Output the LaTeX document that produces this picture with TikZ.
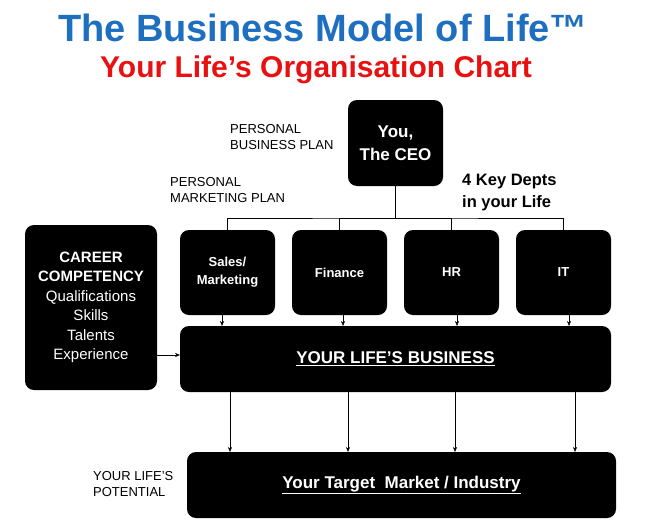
\documentclass[tikz,border=0pt]{standalone}
\usepackage{fontspec}
\setmainfont{Liberation Sans}
\usetikzlibrary{arrows.meta}
\begin{document}
\begin{tikzpicture}[x=1pt,y=-1pt,
  blk/.style={fill=black,rounded corners=9pt,text=white,font=\bfseries,align=center,inner sep=0},
  lbl/.style={font=\fontsize{13}{16}\selectfont,align=left,anchor=north west,inner sep=0},
  arr/.style={-{Stealth[length=5pt,width=4pt]},thin}]
\useasboundingbox (0,0) rectangle (647,530);
\node (t1) at (323,28) {\fontsize{38}{40}\selectfont\bfseries\color[HTML]{1F6FC0}The Business Model of Life™};
\node (t2) at (316,70) {\fontsize{30}{34}\selectfont\bfseries\color[HTML]{E81010}Your Life’s Organisation Chart};
\node[blk,minimum width=95,minimum height=86,font=\bfseries\fontsize{17}{23}\selectfont] (ceo) at (395.5,143) {You,\\The CEO};
\node[lbl] (pbp) at (230,124) {PERSONAL\\BUSINESS PLAN};
\node[lbl] (pmp) at (170,177) {PERSONAL\\MARKETING PLAN};
\node[lbl,font=\bfseries\fontsize{16.5}{22}\selectfont] (kd) at (462,174) {4 Key Depts\\in your Life};
\foreach \n/\x/\t in {s/227.5/{Sales/\\Marketing}, f/339.5/Finance, h/451.5/HR, i/563.5/IT}
  \node[blk,minimum width=95,minimum height=85,font=\bfseries\fontsize{13}{18}\selectfont] (\n) at (\x,272.5) {\t};
\coordinate (j) at (395.5,218);
\draw[thick] (ceo.south) -- (j);
\draw[thick] (s.north) |- (j) -| (i.north);
\draw[thick] (f.north) |- (j);
\draw[thick] (h.north) |- (j);
\node[blk,minimum width=132,minimum height=165,font=\fontsize{15}{19.5}\selectfont,align=center] (cc) at (91,307.5) {\textbf{CAREER}\\\textbf{COMPETENCY}\\\mdseries Qualifications\\\mdseries Skills\\\mdseries Talents\\\mdseries Experience};
\node[blk,minimum width=431,minimum height=66,font=\bfseries\fontsize{17}{20}\selectfont] (lb) at (395.5,359) {\underline{YOUR LIFE’S BUSINESS}};
\node[blk,minimum width=429,minimum height=66,font=\bfseries\fontsize{17}{20}\selectfont] (tm) at (401.5,485) {\underline{Your Target\ \ Market / Industry}};
\node[lbl] (ylp) at (93,471) {YOUR LIFE’S\\POTENTIAL};
\foreach \a/\x in {s/222,f/343,h/457,i/569} \draw[arr] (\x,315) -- (\x,326);
\foreach \x in {230,348,455,575} \draw[arr] (\x,392) -- (\x,452);
\draw[arr] (cc.east |- 0,355) -- (180,355);
\end{tikzpicture}
\end{document}
